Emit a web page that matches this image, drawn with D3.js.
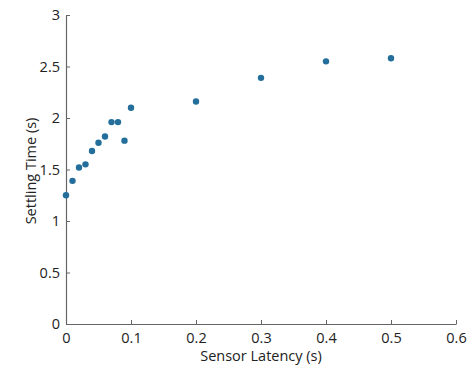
<!DOCTYPE html>
<html><head><meta charset="utf-8">
<script src="https://cdn.jsdelivr.net/npm/d3@7"></script>
<style>body{margin:0;background:#fff}svg{display:block}text{font-family:"Open Sans",sans-serif;fill:#222}</style>
</head><body><svg id="c" width="474" height="377"></svg>
<script>
const latency = [0, 0.01, 0.02, 0.03, 0.04, 0.05, 0.06, 0.07, 0.08, 0.09, 0.1, 0.2, 0.3, 0.4, 0.5];
const settling = [1.25, 1.39, 1.52, 1.55, 1.68, 1.76, 1.82, 1.96, 1.96, 1.78, 2.10, 2.16, 2.39, 2.55, 2.58];
const xTicks = [0, 0.1, 0.2, 0.3, 0.4, 0.5, 0.6];
const yTicks = [0, 0.5, 1, 1.5, 2, 2.5, 3];

const svg = d3.select("#c");
const x = d3.scaleLinear().domain([0, 0.6]).range([66, 456]);
const y = d3.scaleLinear().domain([0, 3]).range([324, 15]);

const xa = svg.append("g").attr("transform", "translate(0,324)")
  .call(d3.axisBottom(x).tickValues(xTicks).tickFormat(d => String(d)).tickSizeInner(-4).tickSizeOuter(0).tickPadding(9));
const ya = svg.append("g").attr("transform", "translate(66,0)")
  .call(d3.axisLeft(y).tickValues(yTicks).tickFormat(d => String(d)).tickSizeInner(-4).tickSizeOuter(0).tickPadding(6));
[xa, ya].forEach(g => {
  g.select(".domain").attr("stroke", "#666").attr("stroke-width", 1.2);
  g.selectAll(".tick line").attr("stroke", "#666");
  g.selectAll(".tick text").attr("font-size", 14.5).attr("fill", "#222").attr("font-family", '"Open Sans",sans-serif');
});

svg.append("g").selectAll("circle").data(latency).join("circle")
  .attr("cx", d => x(d)).attr("cy", (d, i) => y(settling[i])).attr("r", 3.2).attr("fill", "#236e9a");

svg.append("text").attr("x", 261).attr("y", 361).attr("text-anchor", "middle").attr("font-size", 14.5).text("Sensor Latency (s)");
svg.append("text").attr("transform", "translate(36,171) rotate(-90)").attr("text-anchor", "middle").attr("font-size", 14.5).text("Settling Time (s)");
</script></body></html>
